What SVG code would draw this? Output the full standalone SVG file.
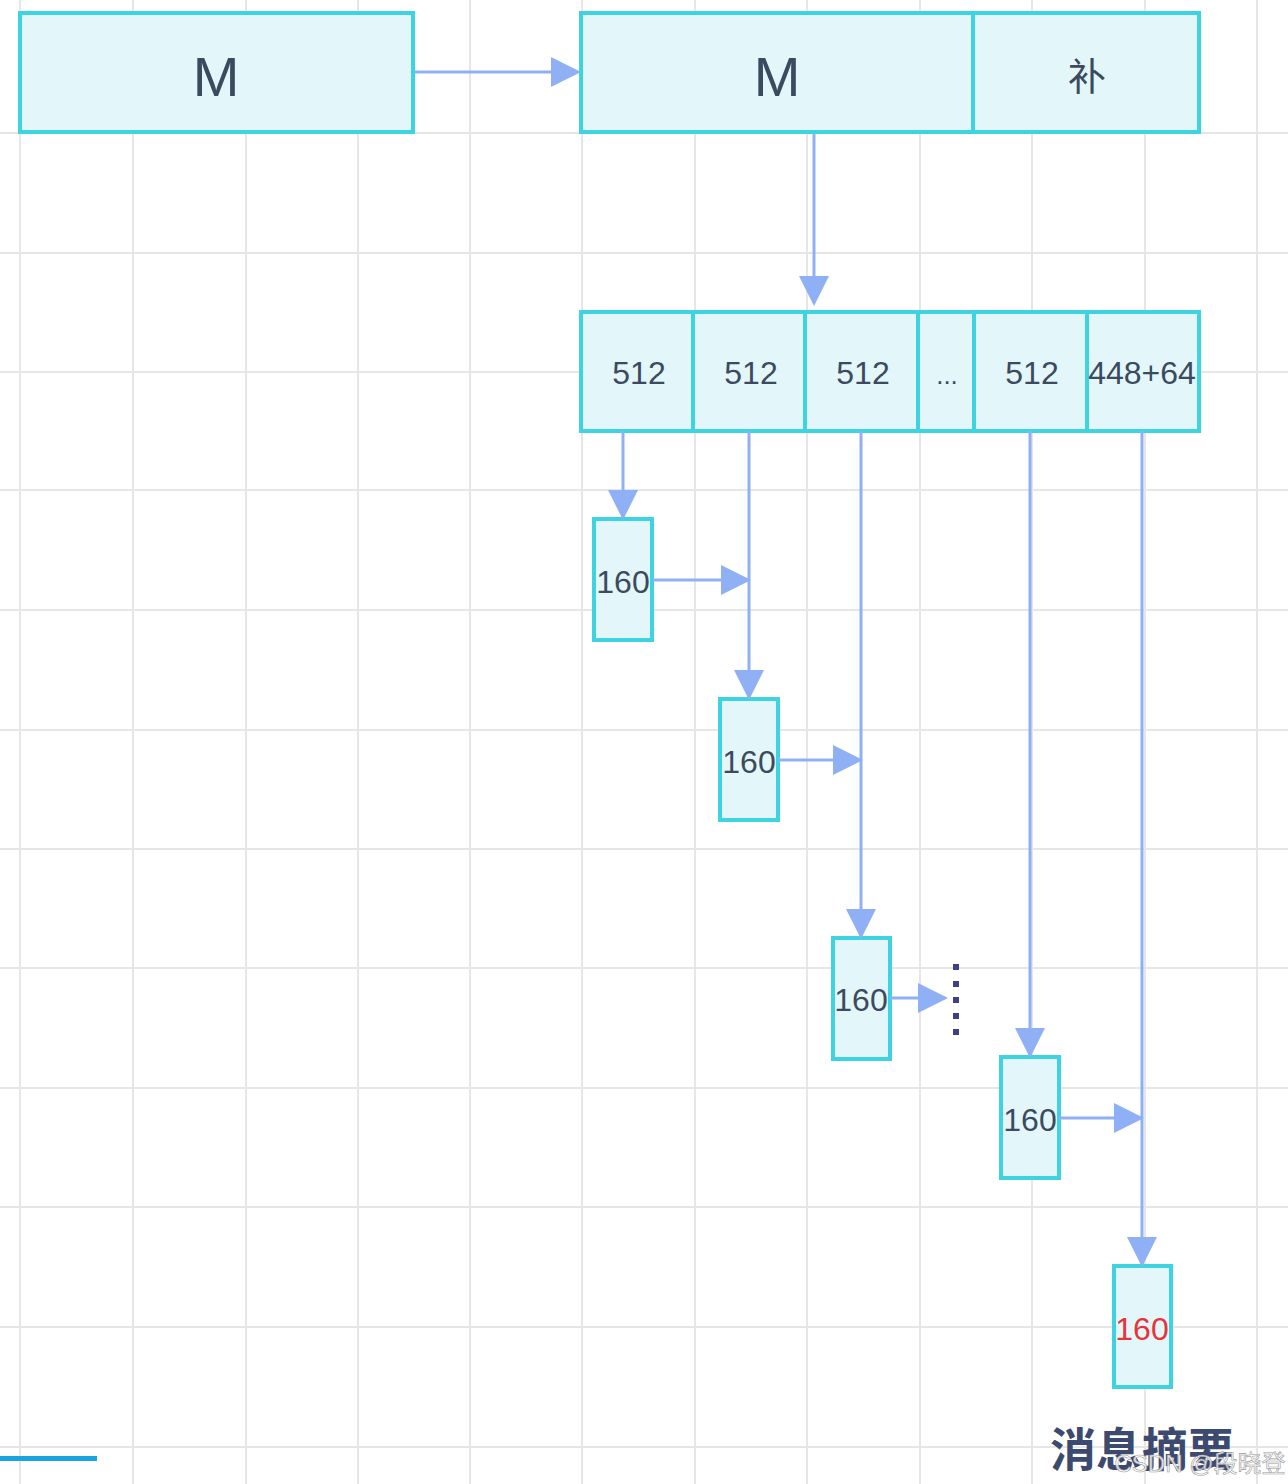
<svg xmlns="http://www.w3.org/2000/svg" width="1288" height="1484" viewBox="0 0 1288 1484">
<defs>
<style>
.grid line{stroke:#e6e6e6;stroke-width:2}
.box{fill:#e3f7fa;stroke:#3ed3e0;stroke-width:4}
.cn line{stroke:#8fb0f5;stroke-width:3}
.t{font-family:"Liberation Sans",Arial,sans-serif;fill:#3c4a60;text-anchor:middle}
</style>
<marker id="ah" viewBox="0 0 10 10" refX="9" refY="5" markerWidth="11" markerHeight="11" markerUnits="userSpaceOnUse" orient="auto"><path d="M0,0L10,5L0,10z" fill="#8fb0f5"/></marker>
<marker id="ah2" viewBox="0 0 10 10" refX="9" refY="5" markerWidth="10" markerHeight="10" orient="auto"><path d="M0,0L10,5L0,10z" fill="#8fb0f5"/></marker>
</defs>
<rect width="1288" height="1484" fill="#fff"/>
<g class="grid">
<line x1="20" y1="0" x2="20" y2="1484"/><line x1="133" y1="0" x2="133" y2="1484"/><line x1="246" y1="0" x2="246" y2="1484"/><line x1="358" y1="0" x2="358" y2="1484"/><line x1="470" y1="0" x2="470" y2="1484"/><line x1="582" y1="0" x2="582" y2="1484"/><line x1="695" y1="0" x2="695" y2="1484"/><line x1="807" y1="0" x2="807" y2="1484"/><line x1="920" y1="0" x2="920" y2="1484"/><line x1="1032" y1="0" x2="1032" y2="1484"/><line x1="1145" y1="0" x2="1145" y2="1484"/><line x1="1257" y1="0" x2="1257" y2="1484"/>
<line x1="0" y1="133" x2="1288" y2="133"/><line x1="0" y1="253" x2="1288" y2="253"/><line x1="0" y1="372" x2="1288" y2="372"/><line x1="0" y1="490" x2="1288" y2="490"/><line x1="0" y1="610" x2="1288" y2="610"/><line x1="0" y1="730" x2="1288" y2="730"/><line x1="0" y1="849" x2="1288" y2="849"/><line x1="0" y1="968" x2="1288" y2="968"/><line x1="0" y1="1088" x2="1288" y2="1088"/><line x1="0" y1="1207" x2="1288" y2="1207"/><line x1="0" y1="1327" x2="1288" y2="1327"/><line x1="0" y1="1447" x2="1288" y2="1447"/>
</g>
<g id="m1"><rect class="box" x="20" y="13" width="393" height="119"/><text class="t" x="216" y="96" font-size="56">M</text></g>
<g id="m2"><rect class="box" x="581" y="13" width="392" height="119"/><text class="t" x="777" y="96" font-size="56">M</text></g>
<g id="pad"><rect class="box" x="973" y="13" width="226" height="119"/><text class="t" x="1087" y="90" font-size="38" style="font-family:'Noto Sans CJK SC',sans-serif">补</text></g>
<g id="b1"><rect class="box" x="581" y="312" width="112" height="119"/><text class="t" x="639" y="384" font-size="32">512</text></g>
<g id="b2"><rect class="box" x="693" y="312" width="112" height="119"/><text class="t" x="751" y="384" font-size="32">512</text></g>
<g id="b3"><rect class="box" x="805" y="312" width="113" height="119"/><text class="t" x="863" y="384" font-size="32">512</text></g>
<g id="b4"><rect class="box" x="918" y="312" width="56" height="119"/><text class="t" x="947" y="384" font-size="26">...</text></g>
<g id="b5"><rect class="box" x="974" y="312" width="113" height="119"/><text class="t" x="1032" y="384" font-size="32">512</text></g>
<g id="b6"><rect class="box" x="1087" y="312" width="112" height="119"/><text class="t" x="1142" y="384" font-size="32">448+64</text></g>
<g id="h1"><rect class="box" x="594" y="519" width="58" height="121"/><text class="t" x="623" y="593" font-size="32">160</text></g>
<g id="h2"><rect class="box" x="720" y="699" width="58" height="121"/><text class="t" x="749" y="773" font-size="32">160</text></g>
<g id="h3"><rect class="box" x="833" y="938" width="57" height="121"/><text class="t" x="861" y="1011" font-size="32">160</text></g>
<g id="h4"><rect class="box" x="1001" y="1057" width="58" height="121"/><text class="t" x="1030" y="1131" font-size="32">160</text></g>
<g id="h5"><rect class="box" x="1114" y="1266" width="57" height="121"/><text class="t" x="1142" y="1340" font-size="32" style="fill:#e8333a">160</text></g>
<g id="dots" fill="#3f3f8f"><rect x="953" y="964" width="6" height="6"/><rect x="953" y="981" width="6" height="6"/><rect x="953" y="997" width="6" height="6"/><rect x="953" y="1013" width="6" height="6"/><rect x="953" y="1029" width="6" height="6"/></g>
<g class="cn">
<line x1="415" y1="72" x2="578" y2="72" marker-end="url(#ah2)"/>
<line x1="814" y1="134" x2="814" y2="303" marker-end="url(#ah2)"/>
<line x1="623" y1="431" x2="623" y2="517" marker-end="url(#ah2)"/>
<line x1="749" y1="431" x2="749" y2="697" marker-end="url(#ah2)"/>
<line x1="861" y1="431" x2="861" y2="936" marker-end="url(#ah2)"/>
<line x1="1030" y1="431" x2="1030" y2="1055" marker-end="url(#ah2)"/>
<line x1="1142" y1="431" x2="1142" y2="1264" marker-end="url(#ah2)"/>
<line x1="652" y1="580" x2="748" y2="580" marker-end="url(#ah2)"/>
<line x1="778" y1="760" x2="860" y2="760" marker-end="url(#ah2)"/>
<line x1="890" y1="998" x2="945" y2="998" marker-end="url(#ah2)"/>
<line x1="1059" y1="1118" x2="1141" y2="1118" marker-end="url(#ah2)"/>
</g>
<text x="1142" y="1466" font-size="46" font-weight="bold" text-anchor="middle" fill="#3c4a70" style="font-family:'Noto Sans CJK SC',serif">消息摘要</text>
<text x="1200" y="1472" font-size="24" text-anchor="middle" fill="#ffffff" fill-opacity="0.85" stroke="#999" stroke-width="0.6" style="font-family:'Liberation Sans','Noto Sans CJK SC',sans-serif">CSDN @段晓登</text>
<rect x="0" y="1456" width="97" height="5" fill="#1aa3dc"/>
</svg>
